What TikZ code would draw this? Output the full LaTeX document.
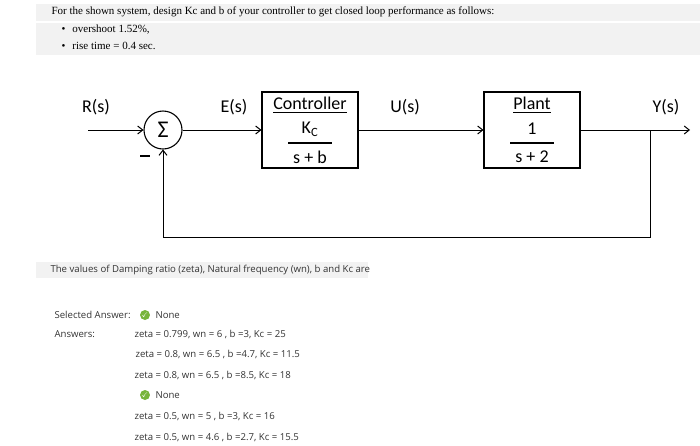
\documentclass[tikz,border=0pt]{standalone}
\usepackage{amssymb}
\usepackage{fontspec}
\setmainfont{Liberation Serif}
\newfontfamily\calfnt{Carlito}
\newfontfamily\osans{Open Sans}
\usetikzlibrary{arrows.meta}
\definecolor{band}{RGB}{242,242,242}
\definecolor{chk}{RGB}{120,180,60}
\begin{document}
\begin{tikzpicture}[x=1pt,y=-1pt,
  blk/.style={draw,line width=1.1pt,minimum width=96pt,minimum height=76pt},
  lbl/.style={font=\calfnt\fontsize{18}{20}\selectfont},
  con/.style={line width=1pt,-{Straight Barb[length=5pt,width=8pt]}},
  ans/.style={anchor=west,font=\osans\fontsize{9.6}{11}\selectfont,text=black!80},
  chkmark/.style={circle,fill=chk,inner sep=0pt,minimum size=10pt,text=white,font=\scriptsize\bfseries}]
\useasboundingbox (0,0) rectangle (700,445);
\fill[band] (36,4) rectangle (700,21);
\fill[band] (36,23) rectangle (700,55);
\node[anchor=west,font=\fontsize{11}{13}\selectfont] (t) at (48,12) {For the shown system, design Kc and b of your controller to get closed loop performance as follows:};
\node[anchor=west,font=\fontsize{11}{13}\selectfont] (b1) at (58,30) {\textbullet\hspace{7pt}overshoot 1.52\%,};
\node[anchor=west,font=\fontsize{11}{13}\selectfont] (b2) at (58,46) {\textbullet\hspace{7pt}rise time = 0.4 sec.};
% diagram
\coordinate (in) at (88,130);
\node[draw,circle,line width=1.1pt,minimum size=38pt,inner sep=0pt,font=\calfnt\fontsize{24}{24}\selectfont] (sum) at (163,130) {Σ};
\node[blk] (ctl) at (310,130) {};
\node[blk] (pl) at (532,130) {};
\coordinate (out) at (690,130);
\coordinate (tap) at (650,130);
\node[lbl] (rs) at (96,107) {R(s)};
\node[lbl] (es) at (234,107) {E(s)};
\node[lbl] (us) at (405,107) {U(s)};
\node[lbl] (ys) at (666,107) {Y(s)};
\draw[line width=2.5pt] (140,156) -- (150,156);
\node[lbl] (ct) at (310,105) {\underline{Controller}};
\node[lbl] (kc) at (310,129) {K\textsubscript{C}};
\node[lbl] (sb) at (310,157) {s + b};
\draw[line width=1.1pt] (288,143) -- (332,143);
\node[lbl] (pt) at (532,105) {\underline{Plant}};
\node[lbl] (p1) at (532,129) {1};
\node[lbl] (s2) at (532,157) {s + 2};
\draw[line width=1.1pt] (510,143) -- (554,143);
\draw[con] (in) -- (sum);
\draw[con] (sum) -- (ctl);
\draw[con] (ctl) -- (pl);
\draw[con] (pl) -- (out);
\draw[con] (tap) |- (163,237) -- (sum.south);
% question text
\fill[band] (36,262) rectangle (368,278);
\node[ans] (q) at (47,270) {The values of Damping ratio (zeta), Natural frequency (wn), b and Kc are};
\node[ans] (sa) at (51,315) {Selected Answer:};
\node[chkmark] (c1) at (145,315) {$\checkmark$};
\node[ans] (n1) at (152,315) {None};
\node[ans] (aw) at (51,334) {Answers:};
\node[ans] (a1) at (131,334) {zeta = 0.799, wn = 6 , b =3, Kc = 25};
\node[ans] (a2) at (132,354) {zeta = 0.8, wn = 6.5 , b =4.7, Kc = 11.5};
\node[ans] (a3) at (131,375) {zeta = 0.8, wn = 6.5 , b =8.5, Kc = 18};
\node[chkmark] (c2) at (145,395) {$\checkmark$};
\node[ans] (n2) at (152,395) {None};
\node[ans] (a5) at (131,416) {zeta = 0.5, wn = 5 , b =3, Kc = 16};
\node[ans] (a6) at (131,437) {zeta = 0.5, wn = 4.6 , b =2.7, Kc = 15.5};
\end{tikzpicture}
\end{document}
